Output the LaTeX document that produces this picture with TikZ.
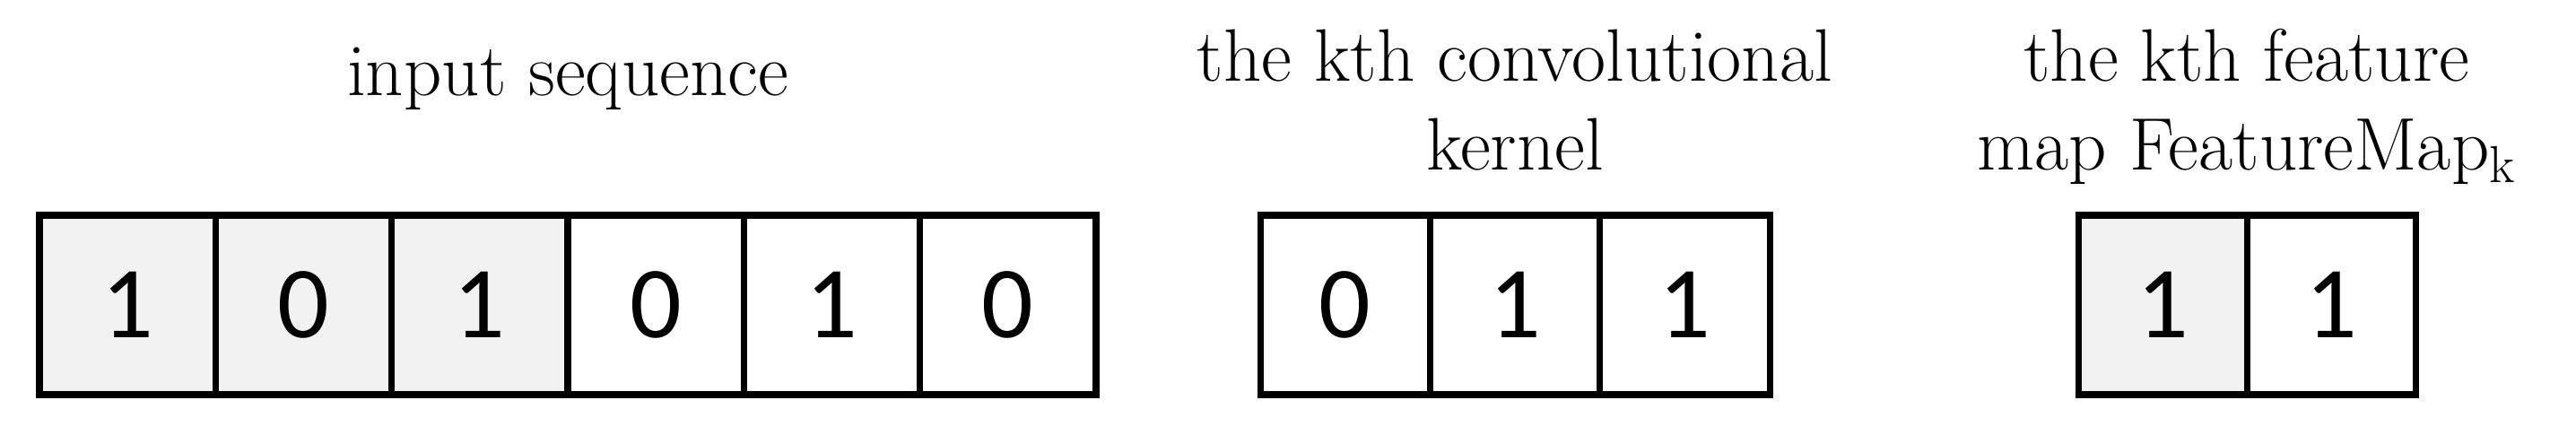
\documentclass[tikz,border=0pt]{standalone}
\usepackage{fontspec}
\newfontfamily\digitfont{Carlito}
\definecolor{cellgray}{HTML}{F2F2F2}
\tikzset{
  cell/.style={draw,line width=2pt,minimum height=2cm,inner sep=0pt,
    font=\digitfont\fontsize{32.4}{34}\selectfont},
  title/.style={align=center,inner sep=0pt,font=\fontsize{23.6}{28.45}\selectfont}
}

\begin{document}
\begin{tikzpicture}
\useasboundingbox (0,0) rectangle (28.72,4.85);
% input sequence
\foreach \v/\f [count=\i] in {1/cellgray,0/cellgray,1/cellgray,0/white,1/white,0/white}
  \node[cell,fill=\f,minimum width=1.9633cm] (in\i) at (1.4217+1.9633*\i-1.9633,1.45) {\v};
\node[title,anchor=base] (intitle) at (6.33,3.78) {input sequence};
% kernel
\foreach \v [count=\i] in {0,1,1}
  \node[cell,minimum width=1.8933cm] (ker\i) at (14.9967+1.8933*\i-1.8933,1.45) {\v};
\node[title,anchor=base] (kertitle) at (16.89,2.95) {the kth convolutional\\kernel};
% feature map
\foreach \v/\f [count=\i] in {1/cellgray,1/white}
  \node[cell,fill=\f,minimum width=1.88cm] (fm\i) at (24.11+1.88*\i-1.88,1.45) {\v};
\node[title,anchor=base] (fmtitle) at (25.05,2.95) {the kth feature\\map FeatureMap\textsubscript{k}};
\end{tikzpicture}
\end{document}
